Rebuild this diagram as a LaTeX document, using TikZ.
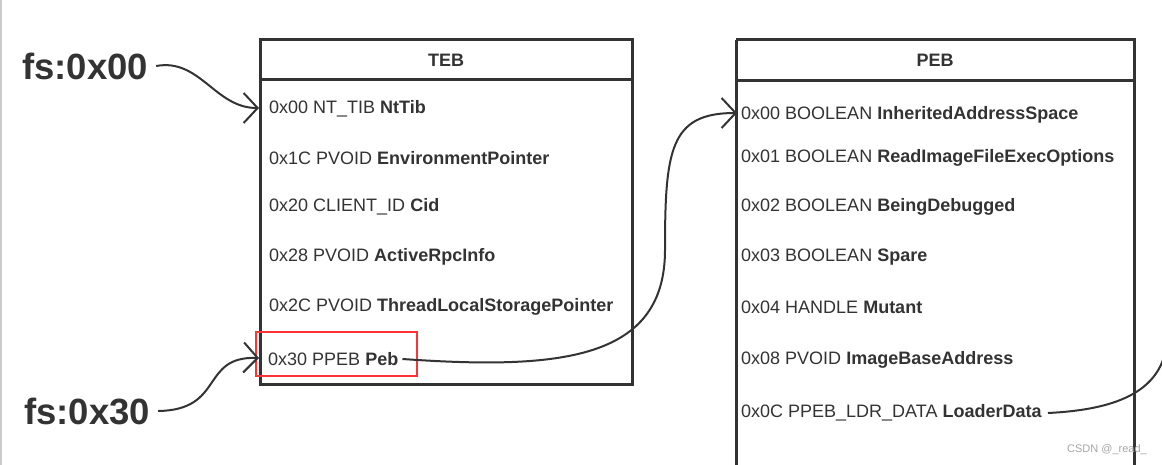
\documentclass[tikz,border=0pt]{standalone}
\usepackage{fontspec}
\setmainfont{Liberation Sans}
\usetikzlibrary{arrows.meta}
\begin{document}
\begin{tikzpicture}[x=1pt,y=-1pt,
  box/.style={draw=black!80,line width=3pt},
  row/.style={anchor=west,inner sep=0pt,text=black!80,font=\fontsize{18}{20}\selectfont},
  big/.style={anchor=west,inner sep=0pt,text=black!80,font=\fontsize{36.5}{38}\selectfont\bfseries},
  conn/.style={draw=black!80,line width=2pt},
  tip/.style={-{Straight Barb[length=14pt,width=30pt,line width=2pt]}}]
\path[use as bounding box,fill=white] (0,0) rectangle (1162,465);
\draw[black!20,line width=1.5pt] (1,0) -- (1,465);
% TEB
\draw[box] (260,40) rectangle (632,384);
\draw[box] (260,80) -- (632,80);
\node[font=\fontsize{18}{20}\selectfont\bfseries,text=black!80] (teb) at (446,60) {TEB};
\node[row] (t0) at (269,109) {0x00 NT\_TIB \textbf{NtTib}};
\node[row] (t1) at (269,158) {0x1C PVOID \textbf{EnvironmentPointer}};
\node[row] (t2) at (269,207) {0x20 CLIENT\_ID \textbf{Cid}};
\node[row] (t3) at (269,257) {0x28 PVOID \textbf{ActiveRpcInfo}};
\node[row] (t4) at (269,307) {0x2C PVOID \textbf{ThreadLocalStoragePointer}};
\node[row] (t5) at (268,359) {0x30 PPEB \textbf{Peb}};
\draw[red!80,line width=2pt] (256,332) rectangle (417,376);
% PEB
\draw[box] (736,40) -- (736,470) (736,40) -- (1134,40) -- (1134,470);
\draw[box] (736,81) -- (1134,81);
\node[font=\fontsize{18}{20}\selectfont\bfseries,text=black!80] (peb) at (935,60) {PEB};
\node[row] (p0) at (741,115) {0x00 BOOLEAN \textbf{InheritedAddressSpace}};
\node[row] (p1) at (741,158) {0x01 BOOLEAN \textbf{ReadImageFileExecOptions}};
\node[row] (p2) at (741,207) {0x02 BOOLEAN \textbf{BeingDebugged}};
\node[row] (p3) at (741,257) {0x03 BOOLEAN \textbf{Spare}};
\node[row] (p4) at (741,307) {0x04 HANDLE \textbf{Mutant}};
\node[row] (p5) at (741,360) {0x08 PVOID \textbf{ImageBaseAddress}};
\node[row] (p6) at (741,413) {0x0C PPEB\_LDR\_DATA \textbf{LoaderData}};
% labels
\node[big] (f0) at (22,66) {fs:0x00};
\node[big] (f3) at (24,411) {fs:0x30};
\node[text=black!35,font=\fontsize{11}{12}\selectfont,anchor=east,inner sep=0pt] (wm) at (1147,450) {CSDN @\_read\_};
\coordinate (e0) at (259,108);
\coordinate (e3) at (259,358);
\coordinate (ep) at (737,113);
\coordinate (rt) at (1163,360);
% connectors
\draw[conn,tip] ([xshift=8pt]f0.east) .. controls (200,58) and (215,108) .. (e0);
\draw[conn,tip] ([xshift=8pt]f3.east) .. controls (225,410) and (200,356) .. (e3);
\draw[conn,tip] ([xshift=4pt]t5.east) .. controls (560,370) and (665,360) .. (665,250)
  .. controls (665,150) and (670,113) .. (ep);
\draw[conn] ([xshift=6pt]p6.east) .. controls (1110,410) and (1150,395) .. (rt);
\end{tikzpicture}
\end{document}
